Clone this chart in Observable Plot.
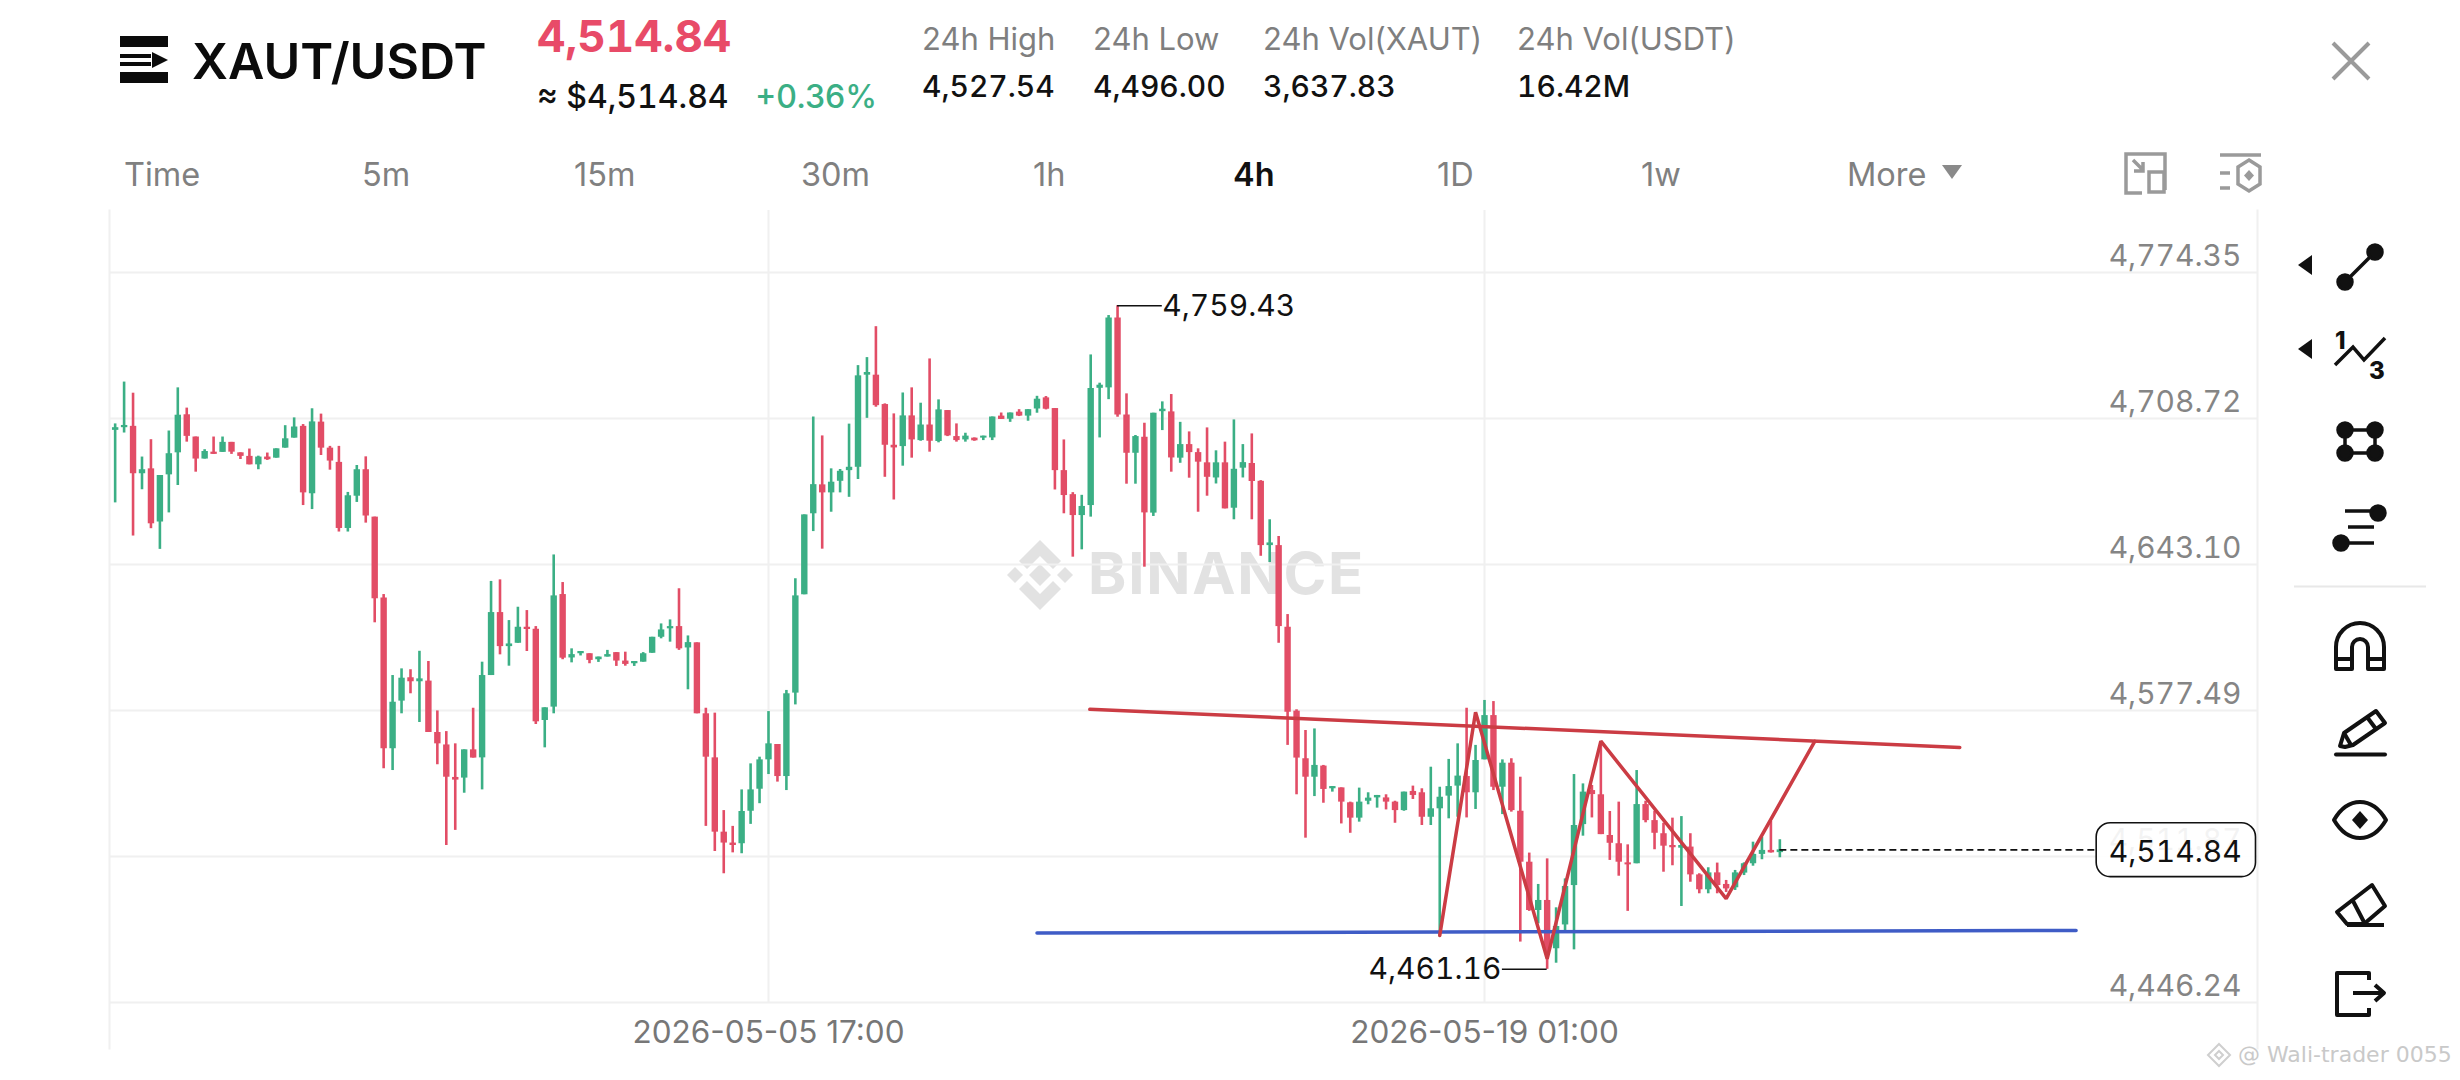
<!DOCTYPE html>
<html><head><meta charset="utf-8">
<script src="https://cdn.jsdelivr.net/npm/d3@7"></script>
<script src="https://cdn.jsdelivr.net/npm/@observablehq/plot@0.6"></script>
<style>
html,body{margin:0;background:#fff;width:2460px;height:1080px;overflow:hidden;font-family:Inter,"Noto Sans",sans-serif}
.t{position:absolute;line-height:1;white-space:nowrap;transform:translateY(-50%);z-index:2}
.n{font-variant-numeric:tabular-nums}
.ov{position:absolute;left:0;top:0;z-index:2;pointer-events:none}
#wm{position:absolute;left:1000px;top:530px;z-index:0}
</style></head><body>
<script>
const opens=[4703.4,4704.6,4705.2,4683.9,4686.1,4662.2,4683.4,4693.3,4710.4,4700.4,
4690.5,4693.6,4693.5,4698.0,4693.3,4691.7,4687.9,4691.4,4690.9,4695.4,
4699.9,4705.2,4674.9,4707.1,4695.4,4689.0,4659.3,4673.8,4685.7,4664.4,
4628.1,4560.3,4581.7,4592.2,4590.4,4590.7,4567.6,4562.0,4547.4,4547.1,
4559.8,4556.2,4593.2,4621.5,4606.2,4607.7,4614.9,4614.0,4573.0,4579.0,
4629.6,4601.1,4603.0,4603.0,4600.3,4601.5,4603.5,4599.7,4598.5,4599.2,
4603.2,4610.4,4614.2,4615.2,4605.6,4607.9,4576.0,4556.2,4522.8,4517.9,
4517.6,4532.2,4542.1,4555.3,4562.2,4547.8,4585.3,4629.5,4665.9,4678.9,
4675.3,4680.5,4685.3,4686.8,4728.2,4728.2,4715.0,4696.7,4696.1,4709.9,
4698.8,4705.8,4698.4,4712.3,4700.6,4699.1,4699.9,4699.9,4700.0,4709.8,
4708.4,4711.6,4709.8,4713.0,4718.0,4713.2,4685.3,4674.5,4665.1,4669.6,
4722.3,4722.5,4753.9,4710.3,4693.1,4700.3,4666.2,4711.8,4711.7,4690.9,
4697.0,4693.4,4688.8,4682.0,4688.8,4668.4,4686.4,4688.5,4680.5,4651.6,
4651.6,4614.9,4577.2,4555.8,4547.5,4552.5,4542.3,4542.7,4536.0,4529.1,
4536.7,4538.2,4538.2,4536.3,4532.5,4541.1,4540.5,4529.5,4533.3,4539.0,
4543.5,4547.8,4540.5,4555.3,4575.2,4543.0,4553.8,4532.2,4509.3,4487.6,
4492.1,4470.4,4481.1,4498.8,4526.2,4541.5,4539.6,4521.3,4517.6,4509.0,
4508.6,4535.2,4528.0,4522.1,4516.8,4515.6,4516.1,4503.6,4496.9,4504.5,
4499.3,4497.8,4504.4,4508.6,4512.8,4514.6,4513.6];
const highs=[4706.3,4725.1,4720.1,4691.4,4699.2,4683.1,4703.1,4722.5,4713.4,4700.4,
4694.7,4700.4,4700.4,4698.0,4693.3,4695.0,4691.8,4693.2,4695.1,4705.5,
4709.0,4706.0,4713.1,4710.7,4696.2,4696.2,4675.5,4687.6,4691.5,4664.4,
4629.6,4593.2,4596.2,4595.8,4604.1,4599.5,4577.3,4568.0,4562.5,4559.8,
4578.5,4599.2,4635.5,4636.2,4617.9,4623.9,4622.4,4615.2,4578.7,4647.4,
4635.0,4605.2,4604.0,4603.0,4601.5,4604.5,4603.5,4603.7,4599.5,4603.5,
4610.4,4616.4,4618.2,4632.2,4611.0,4607.9,4578.5,4576.3,4532.5,4525.4,
4541.8,4553.5,4556.5,4577.0,4562.2,4586.5,4636.7,4665.4,4709.4,4700.9,
4686.1,4685.8,4706.2,4732.5,4736.1,4750.0,4715.3,4710.8,4720.2,4722.5,
4715.6,4735.5,4717.1,4712.3,4706.3,4702.1,4700.0,4700.8,4709.4,4711.2,
4711.2,4712.7,4712.7,4718.7,4718.6,4713.2,4699.1,4675.4,4674.2,4737.3,
4724.6,4755.0,4759.43,4719.8,4701.1,4706.6,4711.1,4716.2,4719.5,4707.0,
4702.7,4695.1,4704.5,4694.2,4698.1,4708.1,4697.0,4701.8,4680.8,4663.2,
4655.7,4620.6,4577.8,4568.5,4569.2,4552.8,4543.3,4542.7,4536.3,4542.6,
4540.5,4539.3,4539.6,4536.7,4540.8,4543.5,4542.3,4552.0,4543.0,4555.5,
4562.5,4578.5,4561.8,4582.0,4581.5,4555.3,4555.8,4547.5,4513.4,4499.3,
4510.8,4488.8,4501.8,4548.7,4544.5,4543.8,4563.3,4532.1,4536.3,4517.1,
4550.5,4536.7,4532.2,4526.8,4529.1,4529.8,4522.1,4504.1,4506.8,4508.9,
4501.1,4505.6,4509.0,4518.3,4520.5,4527.6,4519.4];
const lows=[4670.8,4702.2,4655.9,4676.7,4659.2,4649.9,4666.3,4678.6,4698.1,4684.6,
4690.5,4692.6,4693.5,4692.6,4690.3,4687.9,4685.7,4689.9,4690.9,4695.4,
4699.9,4669.6,4667.8,4692.1,4685.5,4657.7,4657.7,4671.0,4661.7,4616.9,
4551.3,4550.5,4576.0,4585.0,4572.1,4567.6,4553.1,4516.8,4523.6,4540.3,
4556.1,4541.8,4593.2,4602.5,4597.4,4607.7,4604.0,4571.2,4560.7,4576.0,
4600.3,4598.9,4602.0,4598.5,4599.1,4601.5,4597.3,4597.4,4597.3,4599.2,
4603.2,4609.7,4608.2,4604.5,4586.8,4576.0,4525.4,4514.1,4504.1,4513.5,
4513.1,4526.3,4535.6,4548.7,4545.3,4541.5,4580.0,4629.5,4657.9,4650.0,
4666.6,4675.3,4673.3,4681.3,4708.8,4713.8,4682.3,4672.1,4687.3,4690.9,
4698.5,4693.6,4697.8,4700.6,4698.1,4698.1,4698.5,4698.8,4698.8,4708.3,
4707.0,4709.6,4707.5,4711.1,4712.6,4676.6,4665.9,4646.4,4649.7,4664.4,
4700.0,4717.2,4709.3,4679.2,4679.2,4641.9,4664.7,4703.3,4684.6,4688.6,
4681.9,4666.6,4673.8,4679.3,4668.1,4663.2,4682.0,4663.2,4646.8,4644.0,
4607.7,4561.8,4539.6,4520.1,4538.8,4535.8,4540.8,4526.5,4522.3,4527.3,
4535.1,4533.6,4532.8,4526.8,4532.2,4537.5,4525.8,4525.8,4475.6,4528.8,
4529.5,4529.2,4533.0,4555.3,4541.5,4530.7,4531.8,4473.4,4487.2,4481.6,
4461.16,4463.9,4478.6,4469.9,4521.0,4529.2,4521.7,4510.1,4503.0,4487.2,
4508.6,4527.0,4514.9,4504.8,4507.7,4489.4,4500.3,4495.1,4495.1,4495.1,
4495.7,4496.6,4503.3,4507.5,4510.4,4513.4,4511.3];
const closes=[4704.6,4705.6,4683.9,4685.7,4661.4,4683.1,4692.9,4710.2,4700.7,4690.5,
4693.9,4692.6,4698.0,4693.6,4691.7,4687.9,4691.4,4690.2,4695.1,4699.6,
4704.9,4675.3,4707.2,4695.4,4689.6,4659.3,4674.0,4685.7,4664.9,4627.7,
4560.3,4581.2,4592.0,4590.4,4591.7,4567.6,4562.5,4547.5,4546.2,4559.8,
4556.1,4593.2,4621.5,4606.2,4607.4,4614.9,4613.9,4572.4,4578.7,4629.0,
4601.0,4602.6,4604.0,4600.0,4601.5,4602.6,4599.7,4598.2,4599.5,4603.0,
4610.4,4613.7,4615.2,4605.2,4608.0,4576.0,4556.5,4522.8,4517.9,4516.8,
4532.1,4541.8,4555.3,4562.5,4547.8,4585.0,4629.0,4665.4,4679.0,4675.3,
4680.1,4685.0,4686.8,4727.9,4729.4,4714.5,4696.7,4695.5,4709.9,4699.1,
4705.8,4698.5,4712.6,4700.9,4698.8,4700.8,4698.7,4700.8,4709.4,4708.3,
4711.2,4709.8,4712.7,4717.4,4712.9,4685.3,4674.1,4665.1,4669.2,4722.2,
4723.7,4753.9,4710.3,4693.1,4700.6,4666.3,4711.1,4712.9,4691.0,4697.0,
4693.4,4689.1,4682.3,4688.8,4668.1,4685.9,4688.9,4680.4,4651.6,4652.8,
4615.2,4576.7,4556.1,4547.5,4552.8,4542.0,4543.3,4536.3,4529.1,4536.3,
4538.1,4539.3,4536.3,4532.5,4540.8,4539.3,4529.5,4533.3,4538.5,4543.3,
4548.0,4540.5,4555.0,4575.2,4543.0,4553.8,4532.5,4509.3,4487.6,4492.1,
4469.6,4480.4,4498.4,4525.8,4540.8,4539.7,4521.7,4517.8,4509.3,4508.1,
4535.2,4528.0,4522.3,4516.5,4515.8,4516.8,4503.6,4496.9,4504.5,4498.8,
4497.3,4504.5,4508.6,4512.8,4514.6,4513.5,4514.84];

const yTicks=[4774.35,4708.72,4643.10,4577.49,4511.87,4446.24];
const yDomain=[4446.24,4774.35];
const yTop=4802.2;
const firstBar=Date.UTC(2026,3,23,13);
const barMs=4*3600*1000;
const barTime=i=>new Date(firstBar+i*barMs);
const xTicks=[new Date(Date.UTC(2026,4,5,17)),new Date(Date.UTC(2026,4,19,1))];

// Drawn tools: bar position, price
const resistBars=[108.9,206.1], resistPrices=[4578.0,4560.9];
const supportBars=[103.0,219.1], supportPrices=[4477.5,4478.6];
const zigBars=[148,152,160,166,180,189.9], zigPrices=[4476.4,4576.7,4465.9,4563.7,4492.9,4563.6];
const highMark={bar:112,labelBar:117,price:4759.43};
const lowMark={bar:160,labelBar:155,price:4461.16};
const last={bar:186,boxBars:[221.4,239.2],boxPrices:[4502.6,4526.8],textBar:237.6,price:4514.84};

// Header text
const symbol="XAUT/USDT";
const stats=[["24h High","4,527.54"],["24h Low","4,496.00"],["24h Vol(XAUT)","3,637.83"],["24h Vol(USDT)","16.42M"]];
const tabs=["Time","5m","15m","30m","1h","4h","1D","1w","More"];
const activeTab="4h";

const UP="#3BAF85", DOWN="#E24D66", LINE_RED="#CB3C44", BLUE="#3F5CC6", GRID="#F0F0F0", AXIS="#858585";
const idx=d3.range(opens.length);
const upIdx=idx.filter(i=>closes[i]>=opens[i]), downIdx=idx.filter(i=>closes[i]<opens[i]);
const fmt=d3.format(",.2f");
const toPts=(b,p)=>b.map((v,i)=>({t:barTime(v),p:p[i]}));
const wick=(arr,c)=>Plot.ruleX(arr,{x:i=>barTime(i),y1:i=>lows[i],y2:i=>highs[i],stroke:c,strokeWidth:2.6});
const body=(arr,c)=>Plot.ruleX(arr,{x:i=>barTime(i),y1:i=>opens[i],y2:i=>closes[i],stroke:c,strokeWidth:6.4});

const chart=Plot.plot({
  width:2460,height:870,marginTop:0,marginBottom:32,marginLeft:109,marginRight:203,
  style:{background:"transparent",position:"absolute",left:"0",top:"210px",zIndex:1,fontFamily:"Inter",overflow:"visible"},
  x:{type:"utc",domain:xTicks,range:[768,1484],axis:null},
  y:{domain:yDomain,range:[792,62],axis:null},
  marks:[
    Plot.gridY(yTicks,{stroke:GRID,strokeOpacity:1,strokeWidth:2}),
    Plot.ruleX(xTicks,{x:d=>d,y1:yDomain[0],y2:yTop,stroke:GRID,strokeWidth:2}),
    Plot.frame({anchor:"left",stroke:GRID,strokeOpacity:1,strokeWidth:2}),
    Plot.frame({anchor:"right",stroke:GRID,strokeOpacity:1,strokeWidth:2}),
    Plot.axisX(xTicks,{anchor:"bottom",tickSize:0,tickPadding:0,dy:-16,lineAnchor:"middle",fontSize:31.5,fontVariant:"normal",fill:"#777",
      tickFormat:d3.utcFormat("%Y-%m-%d %H:%M"),label:null}),
    Plot.axisY(yTicks,{anchor:"right",tickSize:0,tickPadding:0,dx:-16,dy:-16,textAnchor:"end",fontSize:30,fill:AXIS,
      tickFormat:fmt,label:null}),
    wick(upIdx,UP),wick(downIdx,DOWN),body(upIdx,UP),body(downIdx,DOWN),
    Plot.line(toPts(resistBars,resistPrices),{x:"t",y:"p",stroke:LINE_RED,strokeWidth:3.5}),
    Plot.line(toPts(supportBars,supportPrices),{x:"t",y:"p",stroke:BLUE,strokeWidth:3.5}),
    Plot.line(toPts(zigBars,zigPrices),{x:"t",y:"p",stroke:LINE_RED,strokeWidth:3.5,strokeLinejoin:"miter"}),
    Plot.ruleY([highMark.price],{x1:barTime(highMark.bar),x2:barTime(highMark.labelBar),stroke:"#111",strokeWidth:1.6}),
    Plot.ruleY([lowMark.price],{x1:barTime(lowMark.bar),x2:barTime(lowMark.labelBar),stroke:"#111",strokeWidth:1.6}),
    Plot.text([highMark],{x:d=>barTime(d.labelBar),y:"price",text:d=>fmt(d.price),textAnchor:"start",dx:0,dy:1,fontSize:30,fontVariant:"tabular-nums",fill:"#111"}),
    Plot.text([lowMark],{x:d=>barTime(d.labelBar),y:"price",text:d=>fmt(d.price),textAnchor:"end",dx:-1,fontSize:30,fontVariant:"tabular-nums",fill:"#111"}),
    Plot.ruleY([last.price],{x1:barTime(last.bar),x2:barTime(last.boxBars[0]),stroke:"#111",strokeWidth:1.6,strokeDasharray:"7 4"}),
    Plot.rect([last],{x1:barTime(last.boxBars[0]),x2:barTime(last.boxBars[1]),y1:last.boxPrices[0],y2:last.boxPrices[1],
      fill:"#fff",fillOpacity:0.9,stroke:"#111",strokeWidth:1.6,rx:14}),
    Plot.text([last],{x:d=>barTime(d.textBar),y:"price",text:d=>fmt(d.price),textAnchor:"end",dy:3,fontSize:30,fontVariant:"tabular-nums",fill:"#111"})
  ]
});
document.body.appendChild(chart);

function txt(s,left,cy,size,color,weight,cls){
  const d=document.createElement("div");d.className="t"+(cls?" "+cls:"");d.textContent=s;
  d.style.cssText=`left:${left}px;top:${cy}px;font-size:${size}px;color:${color};font-weight:${weight||400};`;
  document.body.appendChild(d);return d;
}
txt(symbol,192,61,50,"#0b0b0b",600);
txt("4,514.84",537,36,44,"#E84B68",700,"n");
txt("≈ $4,514.84",537,97,32,"#111",500,"n");
txt("+0.36%",755,97,32,"#3BAF85",500);
const statX=[922,1093,1263,1517];
stats.forEach((s,i)=>{txt(s[0],statX[i],38,31,"#7f7f7f",400);txt(s[1],statX[i],86,30,"#111",500,"n");});
const tabX=[124,362,574,801,1033,1233,1437,1641,1847];
tabs.forEach((s,i)=>txt(s,tabX[i],175,32.5,s===activeTab?"#111":"#808080",s===activeTab?600:400));

const ov=`<svg class="ov" width="2460" height="1080" viewBox="0 0 2460 1080" fill="none" xmlns="http://www.w3.org/2000/svg">
<g fill="#0b0b0b"><rect x="120" y="36" width="48" height="11"/><rect x="120" y="72" width="48" height="11"/><rect x="120" y="54" width="31" height="4"/><rect x="120" y="62" width="31" height="4"/><path d="M152 52L168 60L152 68Z"/></g>
<path d="M2333 43l36 36M2369 43l-36 36" stroke="#9a9a9a" stroke-width="4"/>
<path d="M1942 165h20l-10 14z" fill="#8a8a8a"/>
<g stroke="#9a9a9a" stroke-width="3.500"><path d="M2165 190v-36h-39v39h16"/><rect x="2149" y="172" width="15" height="20"/><path d="M2133 160l10 10M2143 162v9h-9"/></g>
<g stroke="#9a9a9a" stroke-width="3.500"><path d="M2220 155h41M2220 173h10M2220 188h10"/><path d="M2249 160l11 7v17l-11 7-11-7v-17z"/><path d="M2249 170l5 5.500-5 5.500-5-5.500z" fill="#9a9a9a" stroke="none"/></g>
<g fill="#111"><path d="M2312 255v20l-14-10z"/><path d="M2312 339v20l-14-10z"/></g>
<g stroke="#111" stroke-width="3.500" fill="#111">
<path d="M2345 282L2375 252"/><circle cx="2345" cy="282" r="7"/><circle cx="2375" cy="252" r="7"/>
<path d="M2345 430H2375V453H2345Z" fill="none"/><circle cx="2345" cy="430" r="7"/><circle cx="2375" cy="430" r="7"/><circle cx="2345" cy="453" r="7"/><circle cx="2375" cy="453" r="7"/>
<path d="M2345 511H2375M2348 527H2374M2345 543H2374" fill="none"/><circle cx="2378" cy="513" r="7"/><circle cx="2341" cy="543" r="7"/>
<path d="M2335 365L2353 347L2364 360L2385 338" fill="none"/></g>
<text x="2335" y="349" font-family="Inter" font-weight="800" font-size="24" fill="#111">1</text>
<text x="2369" y="379" font-family="Inter" font-weight="800" font-size="24" fill="#111">3</text>
<path d="M2294 586.500H2426" stroke="#e8e8e8" stroke-width="2"/>
<g stroke="#111" stroke-width="4" fill="none" stroke-linejoin="round">
<path d="M2336 669v-22a24 24 0 0 1 48 0v22h-16v-22a8 8 0 0 0-16 0v22z"/><path d="M2336 659h16M2368 659h16"/>
<path d="M2336 754.500h49" stroke-linecap="round"/><path d="M2345 747l-5 -1 4 -13 32 -22 9 12 -32 22z"/><path d="M2367 717l9 12"/><path d="M2344 733l7 12"/>
<path d="M2334 820c14-24 38-24 52 0c-14 24-38 24-52 0z"/>
<path d="M2337 912l35-27 13 21-21 18h-17z"/><path d="M2352 899l13 25M2347 925h37"/>
<path d="M2369 980v-7h-32v42h32v-7"/><path d="M2353 993h30M2375 985l9 8-9 8"/>
</g>
<path d="M2360 811l8 9-8 9-8-9z" fill="#111"/>
<g stroke="#cfcfcf" stroke-width="2" fill="none"><path d="M2219 1044l11 11-11 11-11-11z"/><path d="M2219 1051l4 4-4 4-4-4z"/></g>
<text x="2238" y="1062" font-family="DejaVu Sans" font-size="22" fill="#c9c9c9">@ Wali-trader 0055</text>
</svg>`;
document.body.insertAdjacentHTML("beforeend",ov);

const wm=`<div id="wm"><svg width="80" height="90" viewBox="-40 -44 80 88" style="position:absolute;left:0;top:0"><g fill="#e2e2e2">
<path d="M0 -11L11 0L0 11L-11 0Z"/><path d="M-25 -8L-17 0L-25 8L-33 0Z"/><path d="M25 -8L33 0L25 8L17 0Z"/>
<path d="M0 -35L21 -14L13 -6L0 -19L-13 -6L-21 -14Z"/><path d="M0 35L21 14L13 6L0 19L-13 6L-21 14Z"/></g></svg>
<div style="position:absolute;left:88px;top:14px;font:700 58px/1 Inter;letter-spacing:1.800px;color:#e2e2e2">BINANCE</div></div>`;
document.body.insertAdjacentHTML("beforeend",wm);
</script>
</body></html>
